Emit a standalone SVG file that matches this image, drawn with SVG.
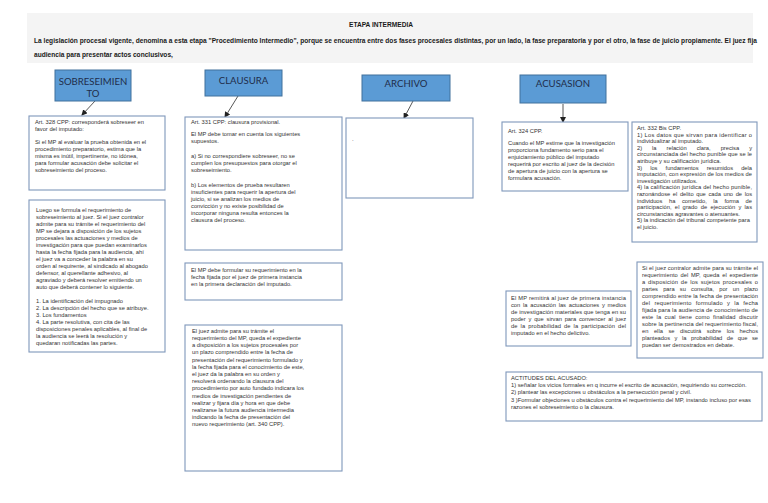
<svg xmlns="http://www.w3.org/2000/svg" width="768" height="503" viewBox="0 0 768 503">
<defs>
<style>
.t{font-family:"Liberation Sans",Arial,sans-serif;font-size:5.75px;fill:#333}
.h{font-family:"Liberation Sans",Arial,sans-serif;font-size:6.6px;font-weight:bold;fill:#1a1a1a}
.lab{font-family:Lato,"Liberation Sans",sans-serif;font-size:9.6px;fill:#1f2d4a;text-anchor:middle}
.hb{fill:#5b9bd5;stroke:#41719c;stroke-width:1}
.box{fill:#fff;stroke:#7f97bb;stroke-width:1.1}
.con{stroke:#444;stroke-width:0.9;fill:none;marker-end:url(#ah)}
</style>
<marker id="ah" markerWidth="6" markerHeight="6" refX="5" refY="3" orient="auto" markerUnits="userSpaceOnUse">
<path d="M0,0 L6,3 L0,6 Z" fill="#222"/>
</marker>
</defs>
<rect width="768" height="503" fill="#fff"/>
<g id="header">
<rect x="27" y="13" width="726" height="50" fill="#f4f4f4"/>
<text class="h" x="381" y="27" text-anchor="middle" font-size="6.2">ETAPA INTERMEDIA</text>
<text class="h" x="34" y="43" textLength="723" lengthAdjust="spacing">La legislación procesal vigente, denomina a esta etapa "Procedimiento Intermedio", porque se encuentra entre dos fases procesales distintas, por un lado, la fase preparatoria y por el otro, la fase de juicio propiamente. El juez fija</text>
<text class="h" x="34" y="57">audiencia para presentar actos conclusivos,</text>
</g>
<g id="connectors">
<line class="con" x1="95" y1="101" x2="82" y2="115"/>
<line class="con" x1="238" y1="96" x2="225" y2="117"/>
<line class="con" x1="413" y1="101" x2="404" y2="118"/>
<line class="con" x1="563" y1="104" x2="563" y2="122"/>
</g>
<g id="sobreseimiento">
<rect class="hb" x="55" y="70" width="76" height="31"/>
<text class="lab" x="93" y="85">SOBRESEIMIEN</text>
<text class="lab" x="93" y="97">TO</text>
</g>
<g id="sob-box1">
<rect class="box" x="29" y="116" width="136" height="74"/>
<text class="t" x="35" y="124">Art. 328 CPP: corresponderá sobreseer en</text>
<text class="t" x="35" y="131">favor del imputado:</text>
<text class="t" x="35" y="144">Si el MP al evaluar la prueba obtenida en el</text>
<text class="t" x="35" y="151">procedimiento preparatorio, estima que la</text>
<text class="t" x="35" y="158">misma es inútil, impertinente, no idónea,</text>
<text class="t" x="35" y="165">para formular acusación  debe solicitar el</text>
<text class="t" x="35" y="172">sobreseimiento del proceso.</text>
</g>
<g id="sob-box2">
<rect class="box" x="29" y="200" width="136" height="152"/>
<text class="t" x="36" y="212">Luego se formula el requerimiento de</text>
<text class="t" x="36" y="219">sobreseimiento al juez. Si el juez contralor</text>
<text class="t" x="36" y="226">admite para su trámite el requerimiento del</text>
<text class="t" x="36" y="233">MP se dejara a disposición de los sujetos</text>
<text class="t" x="36" y="240">procesales las actuaciones y medios de</text>
<text class="t" x="36" y="247">investigación para que puedan examinarlos</text>
<text class="t" x="36" y="254">hasta la fecha fijada para la audiencia, ahí</text>
<text class="t" x="36" y="261">el juez va a conceder la palabra en su</text>
<text class="t" x="36" y="268">orden al requirente, al sindicado al abogado</text>
<text class="t" x="36" y="275">defensor, al querellante adhesivo, al</text>
<text class="t" x="36" y="282">agraviado y deberá resolver emitiendo un</text>
<text class="t" x="36" y="289">auto que deberá contener lo siguiente.</text>
<text class="t" x="36" y="303">1. La identificación del impugnado</text>
<text class="t" x="36" y="310">2. La descripción del hecho que se atribuye.</text>
<text class="t" x="36" y="317">3. Los fundamentos</text>
<text class="t" x="36" y="324">4. La parte resolutiva, con cita de las</text>
<text class="t" x="36" y="331">disposiciones penales aplicables, al final de</text>
<text class="t" x="36" y="338">la audiencia se leerá la resolución y</text>
<text class="t" x="36" y="345">quedaran notificadas las partes.</text>
</g>
<g id="clausura">
<rect class="hb" x="205" y="70" width="77" height="26"/>
<text class="lab" x="243.5" y="84">CLAUSURA</text>
</g>
<g id="cla-box1">
<rect class="box" x="185" y="117" width="157" height="133"/>
<text class="t" x="191" y="124">Art. 331 CPP: clausura provisional.</text>
<text class="t" x="191" y="136">El MP debe tomar en cuenta los siguientes</text>
<text class="t" x="191" y="143">supuestos.</text>
<text class="t" x="191" y="158">a) Si no correspondiere sobreseer, no se</text>
<text class="t" x="191" y="165">cumplen los presupuestos para otorgar el</text>
<text class="t" x="191" y="172">sobreseimiento.</text>
<text class="t" x="191" y="187">b) Los elementos de prueba resultaren</text>
<text class="t" x="191" y="194">insuficientes para requerir la apertura del</text>
<text class="t" x="191" y="201">juicio, si se analizan los medios de</text>
<text class="t" x="191" y="208">convicción y no existe posibilidad de</text>
<text class="t" x="191" y="215">incorporar ninguna resulta entonces la</text>
<text class="t" x="191" y="222">clausura del proceso.</text>
</g>
<g id="cla-box2">
<rect class="box" x="185" y="263" width="157" height="37"/>
<text class="t" x="191" y="272">El MP debe formular su requerimiento en la</text>
<text class="t" x="191" y="279">fecha fijada por el juez de primera instancia</text>
<text class="t" x="191" y="286">en la primera declaración del imputado.</text>
</g>
<g id="cla-box3">
<rect class="box" x="185" y="325" width="157" height="146"/>
<text class="t" x="192" y="333">El juez admite para su trámite el</text>
<text class="t" x="192" y="340">requerimiento del MP, queda el expediente</text>
<text class="t" x="192" y="347">a disposición a los sujetos procesales por</text>
<text class="t" x="192" y="354">un plazo comprendido entre la fecha de</text>
<text class="t" x="192" y="362">presentación del requerimiento formulado y</text>
<text class="t" x="192" y="369">la fecha fijada para el conocimiento de este,</text>
<text class="t" x="192" y="376">el juez da la palabra en su orden y</text>
<text class="t" x="192" y="383">resolverá ordenando la clausura del</text>
<text class="t" x="192" y="390">procedimiento por auto fundado indicara los</text>
<text class="t" x="192" y="398">medios de investigación pendientes de</text>
<text class="t" x="192" y="405">realizar y fijara día y hora en que debe</text>
<text class="t" x="192" y="412">realizarse la futura audiencia intermedia</text>
<text class="t" x="192" y="419">indicando la fecha de presentación del</text>
<text class="t" x="192" y="426">nuevo requerimiento (art. 340 CPP).</text>
</g>
<g id="archivo">
<rect class="hb" x="362" y="75" width="88" height="26"/>
<text class="lab" x="406" y="87">ARCHIVO</text>
</g>
<g id="arc-box">
<rect class="box" x="346" y="118" width="127" height="80"/>
<text class="t" x="352" y="141">.</text>
</g>
<g id="acusasion">
<rect class="hb" x="520" y="75" width="86" height="28"/>
<text class="lab" x="563" y="87">ACUSASION</text>
</g>
<g id="acu-box1">
<rect class="box" x="502" y="122" width="126" height="69"/>
<text class="t" x="508" y="133">Art. 324 CPP.</text>
<text class="t" x="508" y="145">Cuando el MP estime que la investigación</text>
<text class="t" x="508" y="152">proporciona fundamento serio para el</text>
<text class="t" x="508" y="159">enjuiciamiento público del imputado</text>
<text class="t" x="508" y="166">requerirá por escrito al juez de la decisión</text>
<text class="t" x="508" y="173">de apertura de juicio con la apertura se</text>
<text class="t" x="508" y="180">formulara acusación.</text>
</g>
<g id="acu-box2">
<rect class="box" x="632" y="122" width="125" height="120"/>
<text class="t" x="637" y="130">Art. 332 Bis CPP.</text>
<text class="t" x="637" y="136.6" textLength="115" lengthAdjust="spacing">1) Los datos que sirvan para identificar o</text>
<text class="t" x="637" y="143.2">individualizar al imputado.</text>
<text class="t" x="637" y="149.8" word-spacing="8.4" textLength="115" lengthAdjust="spacing">2) la relación clara, precisa y</text>
<text class="t" x="637" y="156.4" textLength="115" lengthAdjust="spacing">circunstanciada del hecho punible que se le</text>
<text class="t" x="637" y="163">atribuye y su calificación jurídica.</text>
<text class="t" x="637" y="169.6" word-spacing="6.5" textLength="115" lengthAdjust="spacing">3) los fundamentos resumidos dela</text>
<text class="t" x="637" y="176.2" textLength="115" lengthAdjust="spacing">imputación, con expresión de los medios de</text>
<text class="t" x="637" y="182.8">investigación utilizados.</text>
<text class="t" x="637" y="189.4" textLength="115" lengthAdjust="spacing">4) la calificación jurídica del hecho punible,</text>
<text class="t" x="637" y="196" word-spacing="1" textLength="115" lengthAdjust="spacing">razonándose el delito que cada uno de los</text>
<text class="t" x="637" y="202.6" word-spacing="5" textLength="115" lengthAdjust="spacing">individuos ha cometido, la forma de</text>
<text class="t" x="637" y="209.2" word-spacing="1.5" textLength="115" lengthAdjust="spacing">participación, el grado de ejecución y las</text>
<text class="t" x="637" y="215.8">circunstancias agravantes o atenuantes.</text>
<text class="t" x="637" y="222.4">5) la indicación del tribunal competente para</text>
<text class="t" x="637" y="229">el juicio.</text>
</g>
<g id="acu-box3">
<rect class="box" x="506" y="291" width="125" height="55"/>
<text class="t" x="511" y="300" textLength="115" lengthAdjust="spacing">El MP remitirá al juez de primera instancia</text>
<text class="t" x="511" y="307" word-spacing="1.2" textLength="115" lengthAdjust="spacing">con la acusación las actuaciones y medios</text>
<text class="t" x="511" y="314" textLength="115" lengthAdjust="spacing">de investigación materiales que tenga en su</text>
<text class="t" x="511" y="321" word-spacing="1.2" textLength="115" lengthAdjust="spacing">poder y que sirvan para convencer al juez</text>
<text class="t" x="511" y="328" word-spacing="1.2" textLength="115" lengthAdjust="spacing">de la probabilidad de la participación del</text>
<text class="t" x="511" y="335">imputado en el hecho delictivo.</text>
</g>
<g id="acu-box4">
<rect class="box" x="637" y="262" width="126" height="96"/>
<text class="t" x="642" y="270" textLength="116" lengthAdjust="spacing">Si el juez contralor admite para su trámite el</text>
<text class="t" x="642" y="277" word-spacing="1" textLength="116" lengthAdjust="spacing">requerimiento del MP, queda el expediente</text>
<text class="t" x="642" y="284" word-spacing="1" textLength="116" lengthAdjust="spacing">a disposición  de los sujetos procesales o</text>
<text class="t" x="642" y="291" word-spacing="3.6" textLength="116" lengthAdjust="spacing">partes para su consulta, por un plazo</text>
<text class="t" x="642" y="298" textLength="116" lengthAdjust="spacing">comprendido entre la fecha de presentación</text>
<text class="t" x="642" y="305" word-spacing="2.5" textLength="116" lengthAdjust="spacing">del requerimiento formulado y la fecha</text>
<text class="t" x="642" y="312" textLength="116" lengthAdjust="spacing">fijada para la audiencia de conocimiento de</text>
<text class="t" x="642" y="319" word-spacing="1.5" textLength="116" lengthAdjust="spacing">este la cual tiene como finalidad discutir</text>
<text class="t" x="642" y="326" textLength="116" lengthAdjust="spacing">sobre la pertinencia del requerimiento fiscal,</text>
<text class="t" x="642" y="333" word-spacing="4" textLength="116" lengthAdjust="spacing">en ella se discutirá sobre los hechos</text>
<text class="t" x="642" y="340" word-spacing="3" textLength="116" lengthAdjust="spacing">planteados y la probabilidad de que se</text>
<text class="t" x="642" y="347">puedan ser demostrados en debate.</text>
</g>
<g id="actitudes">
<rect class="box" x="506" y="372" width="256" height="49"/>
<text class="t" x="511" y="380">ACTITUDES DEL ACUSADO:</text>
<text class="t" x="511" y="387">1) señalar los vicios formales en q incurre el escrito de acusación, requiriendo su corrección.</text>
<text class="t" x="511" y="394">2) plantear las excepciones u obstáculos a la persecución penal y civil.</text>
<text class="t" x="511" y="402">3 )Formular objeciones u obstáculos contra el requerimiento del MP, instando incluso por esas</text>
<text class="t" x="511" y="409">razones el sobreseimiento o la clausura.</text>
</g>
</svg>
